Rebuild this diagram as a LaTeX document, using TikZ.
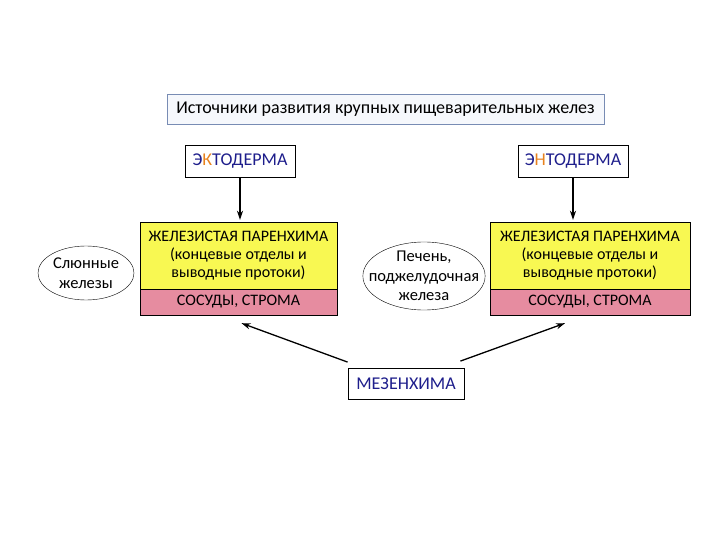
\documentclass[tikz,border=0pt]{standalone}
\usepackage{fontspec}
\setmainfont{Carlito}
\usepackage{xcolor}
\usepackage{tikz}
\usetikzlibrary{shapes.geometric, arrows, arrows.meta}
\definecolor{parenyellow}{RGB}{248,248,82}
\definecolor{stromapink}{RGB}{230,140,160}
\definecolor{titleframe}{RGB}{120,140,180}
\definecolor{titlefill}{RGB}{246,248,252}
\definecolor{layerblue}{RGB}{30,30,140}
\definecolor{layerorange}{RGB}{232,130,30}
\tikzstyle{titlebox} = [rectangle, draw=titleframe, fill=titlefill, minimum width=437pt, minimum height=30pt, font=\fontsize{18}{21}\selectfont]
\tikzstyle{layer} = [rectangle, draw, thick, fill=white, minimum width=110pt, minimum height=32pt, text=layerblue, font=\fontsize{18}{21}\selectfont]
\tikzstyle{paren} = [rectangle, draw, fill=parenyellow, minimum height=67pt, align=center, inner sep=0pt, font=\fontsize{16}{18}\selectfont]
\tikzstyle{stroma} = [rectangle, draw, fill=stromapink, minimum height=26pt, inner sep=0pt, font=\fontsize{16}{18}\selectfont]
\tikzstyle{gland} = [ellipse, draw, align=center, inner sep=-12pt, font=\fontsize{16.5}{19.5}\selectfont]
\tikzstyle{arrow} = [->, line width=1.3pt, >={Stealth[length=9pt, width=6pt]}]

\begin{document}
\begin{tikzpicture}[x=1pt, y=-1pt]
    \useasboundingbox (0,0) rectangle (720,540);

        % nodes
        \node (title) [titlebox] at (385.5,109) {Источники развития крупных пищеварительных желез};
        \node (ecto) [layer] at (240,161) {Э\textcolor{layerorange}{К}ТОДЕРМА};
        \node (endo) [layer] at (573,161) {Э\textcolor{layerorange}{Н}ТОДЕРМА};
        \node (parenL) [paren, minimum width=197pt] at (238.5,255.5) {ЖЕЛЕЗИСТАЯ ПАРЕНХИМА\\(концевые отделы и\\выводные протоки)};
        \node (stromaL) [stroma, minimum width=197pt] at (238.5,302) {СОСУДЫ, СТРОМА};
        \node (parenR) [paren, minimum width=200pt] at (590,255.5) {ЖЕЛЕЗИСТАЯ ПАРЕНХИМА\\(концевые отделы и\\выводные протоки)};
        \node (stromaR) [stroma, minimum width=200pt] at (590,302) {СОСУДЫ, СТРОМА};
        \node (salivary) [gland, minimum width=96pt, minimum height=54pt] at (86,273) {Слюнные\\железы};
        \node (liver) [gland, minimum width=122pt, minimum height=68pt] at (424,276) {Печень,\\поджелудочная\\железа};
        \node (mesench) [layer, minimum width=116pt, minimum height=31pt] at (406,384) {МЕЗЕНХИМА};

        % edges
        \draw [arrow] (ecto) -- ([yshift=2pt]parenL.north -| ecto);
        \draw [arrow] (endo) -- ([yshift=2pt]parenR.north -| endo);
        \draw [arrow] ([yshift=6pt]mesench.north west) -- ([shift={(3pt,-8pt)}]stromaL.south);
        \draw [arrow] ([shift={(-4pt,7pt)}]mesench.north east) -- ([shift={(-25pt,-8pt)}]stromaR.south);

    \end{tikzpicture}
\end{document}
